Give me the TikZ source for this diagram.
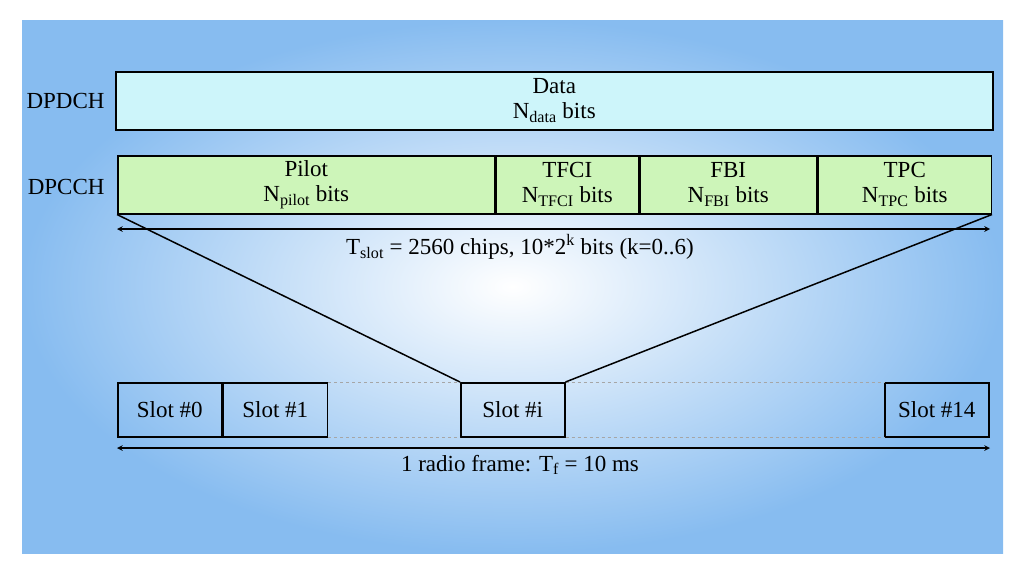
\documentclass[tikz,border=0pt]{standalone}
\usepackage{fontspec}
\setmainfont{Liberation Serif}
\usepackage{tikz}
\usetikzlibrary{positioning,calc,arrows}
\definecolor{bgblue}{RGB}{135,188,240}
\definecolor{datafill}{RGB}{205,245,250}
\definecolor{ctrlfill}{RGB}{205,245,185}
\tikzstyle{field} = [draw=black, line width=1.5pt, minimum height=58pt, inner sep=0pt, align=center]
\tikzstyle{slot} = [draw=black, line width=1.5pt, minimum height=54pt, minimum width=104pt, inner sep=0pt]
\tikzstyle{arrow} = [line width=1.5pt,<->,>=stealth, shorten >=0pt]
\tikzstyle{gap} = [gray!70, dashed, thin]

\begin{document}
\begin{tikzpicture}[x=1pt, y=-1pt, font=\fontsize{23}{25}\selectfont]
\useasboundingbox (0,0) rectangle (1028,563);
\shade[inner color=white, outer color=bgblue] (22,20) rectangle (1003,553);

% channels
\node[field, fill=datafill, minimum width=877pt, anchor=north west] (data) at (115,71) {Data\\N$_{\mathrm{data}}$ bits};
\node[anchor=east] (dpdch) at (108,101) {DPDCH};
\node[field, fill=ctrlfill, minimum width=377pt, anchor=north west] (pilot) at (117,155) {Pilot\\N$_{\mathrm{pilot}}$ bits};
\node[field, fill=ctrlfill, minimum width=142pt, right=0pt of pilot] (tfci) {TFCI\\N$_{\mathrm{TFCI}}$ bits};
\node[field, fill=ctrlfill, minimum width=177pt, right=0pt of tfci] (fbi) {FBI\\N$_{\mathrm{FBI}}$ bits};
\node[field, fill=ctrlfill, minimum width=173pt, right=0pt of fbi] (tpc) {TPC\\N$_{\mathrm{TPC}}$ bits};
\node[anchor=east] (dpcch) at (108,187) {DPCCH};

\coordinate (sl) at (117,229);
\coordinate (sr) at (990,229);
\draw[arrow] (sl) -- (sr);
\node (tslot) at (520,247) {T$_{\mathrm{slot}}$ = 2560 chips, 10*2$^{\mathrm{k}}$ bits (k=0..6)};

% slots
\node[slot, anchor=north west] (s0) at (117,382) {Slot \#0};
\node[slot, right=0pt of s0] (s1) {Slot \#1};
\node[slot, anchor=north west] (si) at (460,382) {Slot \#i};
\node[slot, anchor=north west] (s14) at (884,382) {Slot \#14};

\draw[gap] (s1.north east) -- (si.north west);
\draw[gap] (s1.south east) -- (si.south west);
\draw[gap] (si.north east) -- (s14.north west);
\draw[gap] (si.south east) -- (s14.south west);

\draw[line width=1.5pt] (pilot.south west) -- (si.north west);
\draw[line width=1.5pt] (tpc.south east) -- (si.north east);

\coordinate (fl) at (117,448);
\coordinate (fr) at (990,448);
\draw[arrow] (fl) -- (fr);
\node (frame) at (520,465) {1 radio frame: T$_{\mathrm{f}}$ = 10 ms};
\end{tikzpicture}
\end{document}
